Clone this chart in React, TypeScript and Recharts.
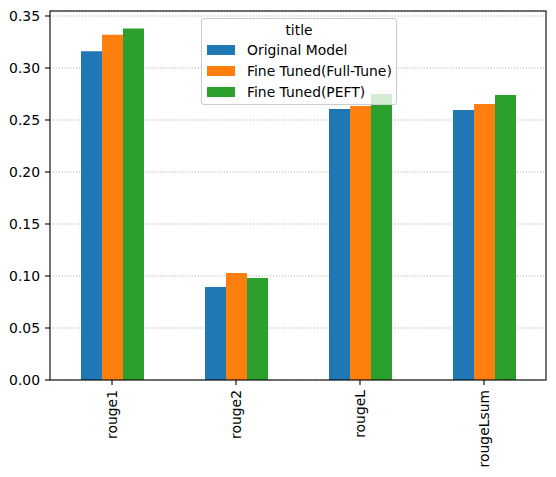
import React from "react";
import { BarChart, Bar, XAxis, YAxis, CartesianGrid } from "recharts";

const categories = ["rouge1", "rouge2", "rougeL", "rougeLsum"];
const originalModel = [0.316, 0.0894, 0.2606, 0.2596];
const fullTune = [0.332, 0.1029, 0.2635, 0.2654];
const peft = [0.338, 0.098, 0.275, 0.274];
const yTicks = [0, 0.05, 0.1, 0.15, 0.2, 0.25, 0.3, 0.35];
const seriesNames = ["Original Model", "Fine Tuned(Full-Tune)", "Fine Tuned(PEFT)"];
const colors = ["#1f77b4", "#ff7f0e", "#2ca02c"];
const legendTitle = "title";

const data = categories.map((c, i) => ({
  name: c,
  a: originalModel[i],
  b: fullTune[i],
  c: peft[i],
}));

const FONT = "'DejaVu Sans', sans-serif";

const XTick = (props: any) => {
  const { x, payload } = props;
  return (
    <g>
      <line x1={x} x2={x} y1={380} y2={385} stroke="#000" strokeWidth={1.1} />
      <text
        x={x}
        y={390}
        transform={`rotate(-90, ${x}, 390)`}
        textAnchor="end"
        dominantBaseline="central"
        fontFamily={FONT}
        fontSize={13.9}
        fill="#000"
      >
        {payload.value}
      </text>
    </g>
  );
};

const YTick = (props: any) => {
  const { y, payload } = props;
  return (
    <g>
      <line x1={45} x2={50} y1={y} y2={y} stroke="#000" strokeWidth={1.1} />
      <text
        x={40}
        y={y}
        textAnchor="end"
        dominantBaseline="central"
        fontFamily={FONT}
        fontSize={13.9}
        fill="#000"
      >
        {Number(payload.value).toFixed(2)}
      </text>
    </g>
  );
};

export default function App() {
  return (
    <div style={{ position: "absolute", left: 0, top: 0, width: 556, height: 477, background: "#fff" }}>
      <BarChart
        width={556}
        height={477}
        data={data}
        margin={{ top: 11, right: 10, left: 0, bottom: 0 }}
        barCategoryGap="25%"
        barGap={0}
      >
        <XAxis
          dataKey="name"
          height={97}
          tick={<XTick />}
          tickLine={false}
          axisLine={false}
          interval={0}
        />
        <YAxis
          width={50}
          domain={[0, 0.3548]}
          ticks={yTicks}
          tick={<YTick />}
          tickLine={false}
          axisLine={false}
          allowDataOverflow
        />
        <Bar dataKey="a" fill={colors[0]} isAnimationActive={false} />
        <Bar dataKey="b" fill={colors[1]} isAnimationActive={false} />
        <Bar dataKey="c" fill={colors[2]} isAnimationActive={false} />
        <CartesianGrid
          vertical={false}
          stroke="#b0b0b0"
          strokeWidth={1.1}
          strokeDasharray="1.1 1.8"
        />
      </BarChart>
      <svg
        width={556}
        height={477}
        style={{ position: "absolute", left: 0, top: 0, pointerEvents: "none" }}
      >
        <rect x={50} y={11} width={496} height={369} fill="none" stroke="#000" strokeWidth={1.1} />
      </svg>
      <div
        style={{
          position: "absolute",
          left: 201,
          top: 18,
          width: 196,
          height: 87,
          boxSizing: "border-box",
          border: "1px solid #cccccc",
          borderRadius: 3,
          background: "rgba(255,255,255,0.8)",
          fontFamily: FONT,
          fontSize: 13.9,
          color: "#000",
        }}
      >
        <div style={{ position: "absolute", left: 0, width: "100%", top: 3, textAlign: "center", lineHeight: "17px" }}>
          {legendTitle}
        </div>
        {seriesNames.map((n, i) => (
          <div key={n} style={{ position: "absolute", left: 0, top: 23 + i * 21, height: 17, width: "100%" }}>
            <div
              style={{
                position: "absolute",
                left: 5,
                top: 3,
                width: 28,
                height: 10,
                background: colors[i],
              }}
            />
            <div style={{ position: "absolute", left: 45, top: 0, lineHeight: "17px", whiteSpace: "nowrap" }}>{n}</div>
          </div>
        ))}
      </div>
    </div>
  );
}
